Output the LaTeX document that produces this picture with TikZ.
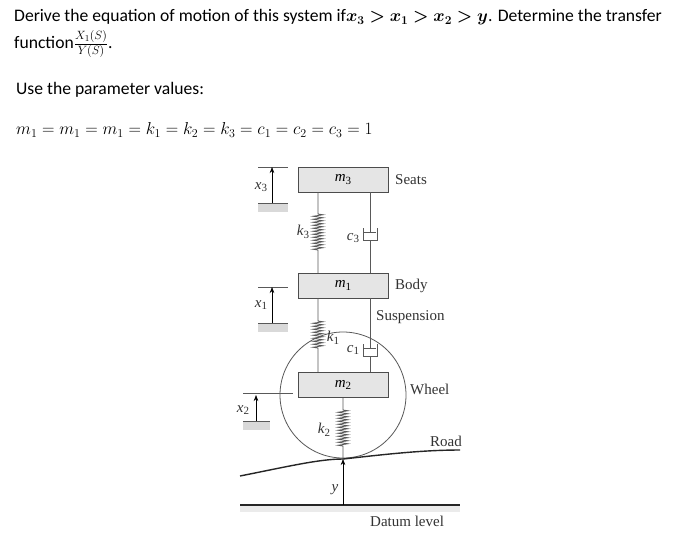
\documentclass[tikz,border=0pt]{standalone}
\usepackage{amsmath}
\usepackage{bm}
\usepackage{fontspec}
\setmainfont{Carlito}
\newfontfamily\tms{Liberation Serif}
\usetikzlibrary{decorations.pathmorphing,arrows.meta}
\newcommand{\sbs}[1]{\raisebox{-2.5pt}{\upshape\fontsize{11}{11}\selectfont #1}}
\begin{document}
\begin{tikzpicture}[x=1pt,y=-1pt,
 mass/.style={draw=black!70,fill=black!10,minimum width=90pt,minimum height=25pt,inner sep=0pt},
 lbl/.style={font=\tms\fontsize{15}{15}\selectfont,text=black!80,inner sep=0pt},
 rod/.style={draw=black!65,line width=0.8pt},
 coil/.style={rod,decorate,decoration={zigzag,segment length=3pt,amplitude=5pt,pre length=#1,post length=#1}},
 gnd/.style={fill=black!15,draw=none},
 arr/.style={draw=black,-{Stealth[length=6pt]},line width=0.6pt}]
\useasboundingbox (0,0) rectangle (700,539);
\fill[white] (0,0) rectangle (700,539);
% header text
\node[anchor=west,inner sep=0pt,font=\fontsize{17.6}{18}\selectfont] (t1) at (14,17) {Derive the equation of motion of this system if$\bm{x_3>x_1>x_2>y}$. Determine the transfer};
\node[anchor=west,inner sep=0pt,font=\fontsize{17.6}{18}\selectfont] (t2) at (14,44) {function$\frac{X_1(S)}{Y(S)}$.};
\node[anchor=west,inner sep=0pt,font=\fontsize{17.6}{18}\selectfont] (t3) at (16,90) {Use the parameter values:};
\node[anchor=west,inner sep=0pt,font=\fontsize{18.5}{19}\selectfont] (t4) at (16,130) {$m_1=m_1=m_1=k_1=k_2=k_3=c_1=c_2=c_3=1$};
% wheel
\node[draw=black!65,line width=0.8pt,circle,minimum size=126pt,inner sep=0pt] (wh) at (343,395) {};
% masses
\node[mass] (m3) at (343,179.5) {\tms\itshape\fontsize{15}{15}\selectfont m\sbs{3}};
\node[mass] (m1) at (343,285.5) {\tms\itshape\fontsize{15}{15}\selectfont m\sbs{1}};
\node[mass] (m2) at (343,385) {\tms\itshape\fontsize{15}{15}\selectfont m\sbs{2}};
\node[lbl,anchor=west] (seats) at (395,180) {Seats};
\node[lbl,anchor=west] (body) at (395,286) {Body};
\node[lbl,anchor=west] (susp) at (376,317) {Suspension};
\node[lbl,anchor=west] (wheel) at (410,389) {Wheel};
\node[lbl,anchor=west] (road) at (430,441) {Road};
\node[lbl,anchor=west] (datum) at (370,521) {Datum level};
% coordinates
\coordinate (a3) at (318,192); \coordinate (b3) at (318,273);
\coordinate (a1) at (318,298); \coordinate (b1) at (318,372);
\coordinate (a2) at (343,398); \coordinate (c) at (343,459);
% springs
\draw[coil=22pt] (a3) -- (b3);
\draw[coil=23pt] (a1) -- (b1);
\draw[coil=12pt] (a2) -- (c);
\node[lbl] (k3) at (303,232) {\itshape k\sbs{3}};
\node[lbl] (k1) at (333,338) {\itshape k\sbs{1}};
\node[lbl] (k2) at (324,430) {\itshape k\sbs{2}};
% dampers
\foreach \top/\bot/\mid in {192/273/236,298/372/352}{
 \draw[rod] (370,\top) -- (370,\mid-4);
 \draw[rod] (364,\mid-4) -- (376,\mid-4);
 \draw[rod] (363,\mid-8) -- (363,\mid+4) -- (377,\mid+4) -- (377,\mid-8);
 \draw[rod] (370,\mid+4) -- (370,\bot);
}
\node[lbl] (c3) at (353,238) {\itshape c\sbs{3}};
\node[lbl] (c1) at (353,350) {\itshape c\sbs{1}};
% displacement indicators
\draw[rod] (258,167) -- (288,167); \fill[gnd] (258,203) rectangle (288,212); \draw[rod] (258,203) -- (288,203);
\draw[arr] (272,203) -- (272,167); \node[lbl] (x3) at (261,187) {\itshape x\sbs{3}};
\draw[rod] (258,287) -- (288,287); \fill[gnd] (258,323) rectangle (288,332); \draw[rod] (258,323) -- (288,323);
\draw[arr] (272,323) -- (272,287); \node[lbl] (x1) at (261,305) {\itshape x\sbs{1}};
\draw[rod] (243,393) -- (293,393); \fill[gnd] (243,421) rectangle (270,430); \draw[rod] (243,421) -- (270,421);
\draw[arr] (256,421) -- (256,395); \node[lbl] (x2) at (243,410) {\itshape x\sbs{2}};
% road and datum
\draw[black!85,line width=1.4pt] (240,476) .. controls (290,466) and (320,459) .. (c) .. controls (380,455) and (420,450) .. (460,450);
\fill[black!8] (240,506) rectangle (460,512);
\draw[black!85,line width=1.6pt] (240,505) -- (460,505);
\coordinate (yb) at (343,505);
\draw[arr] (yb) -- (c);
\node[lbl] (yl) at (335,490) {\itshape y};
\end{tikzpicture}
\end{document}
